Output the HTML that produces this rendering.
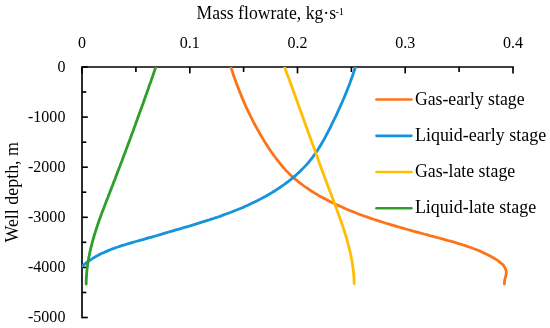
<!DOCTYPE html>
<html><head><meta charset="utf-8"><title>Mass flowrate chart</title>
<style>
html,body{margin:0;padding:0;background:#fff;}
svg{display:block;}
text{font-family:"Liberation Serif",serif;font-size:16.6px;fill:#000;}
.t{font-size:17.8px;}
.ax line{stroke:#000;stroke-width:1.65;}
.cv path{fill:none;stroke-width:2.8;stroke-linecap:round;stroke-linejoin:round;}
</style></head><body>
<svg width="550" height="328" viewBox="0 0 550 328">
<rect width="550" height="328" fill="#fff"/>
<text class="t" x="196.5" y="19.1" textLength="139.5" lengthAdjust="spacingAndGlyphs">Mass flowrate, kg·s</text><text x="335.4" y="14.7" style="font-size:10px" textLength="8.6" lengthAdjust="spacingAndGlyphs">-1</text>
<text class="t" transform="translate(17.7,192.3) rotate(-90)" text-anchor="middle" textLength="100.6" lengthAdjust="spacingAndGlyphs">Well depth, m</text>
<g class="xl"><text x="82.0" y="48.2" text-anchor="middle" textLength="8.0" lengthAdjust="spacingAndGlyphs">0</text>
<text x="189.8" y="48.2" text-anchor="middle" textLength="20.0" lengthAdjust="spacingAndGlyphs">0.1</text>
<text x="297.5" y="48.2" text-anchor="middle" textLength="20.0" lengthAdjust="spacingAndGlyphs">0.2</text>
<text x="405.2" y="48.2" text-anchor="middle" textLength="20.0" lengthAdjust="spacingAndGlyphs">0.3</text>
<text x="513.0" y="48.2" text-anchor="middle" textLength="20.0" lengthAdjust="spacingAndGlyphs">0.4</text></g>
<g class="yl"><text x="65.4" y="71.9" text-anchor="end" textLength="8.0" lengthAdjust="spacingAndGlyphs">0</text>
<text x="65.4" y="122.0" text-anchor="end" textLength="37.4" lengthAdjust="spacingAndGlyphs">-1000</text>
<text x="65.4" y="172.1" text-anchor="end" textLength="37.4" lengthAdjust="spacingAndGlyphs">-2000</text>
<text x="65.4" y="222.2" text-anchor="end" textLength="37.4" lengthAdjust="spacingAndGlyphs">-3000</text>
<text x="65.4" y="272.3" text-anchor="end" textLength="37.4" lengthAdjust="spacingAndGlyphs">-4000</text>
<text x="65.4" y="322.4" text-anchor="end" textLength="37.4" lengthAdjust="spacingAndGlyphs">-5000</text></g>
<g class="ax">
<line x1="81.2" y1="67.0" x2="513.8" y2="67.0"/>
<line x1="82.0" y1="67.0" x2="82.0" y2="318.3"/>
<line x1="82.0" y1="67.0" x2="82.0" y2="73.4"/>
<line x1="135.9" y1="67.0" x2="135.9" y2="72.0"/>
<line x1="189.8" y1="67.0" x2="189.8" y2="73.4"/>
<line x1="243.6" y1="67.0" x2="243.6" y2="72.0"/>
<line x1="297.5" y1="67.0" x2="297.5" y2="73.4"/>
<line x1="351.4" y1="67.0" x2="351.4" y2="72.0"/>
<line x1="405.2" y1="67.0" x2="405.2" y2="73.4"/>
<line x1="459.1" y1="67.0" x2="459.1" y2="72.0"/>
<line x1="513.0" y1="67.0" x2="513.0" y2="73.4"/>
<line x1="82.0" y1="67.0" x2="87.8" y2="67.0"/>
<line x1="82.0" y1="92.0" x2="86.3" y2="92.0"/>
<line x1="82.0" y1="117.1" x2="87.8" y2="117.1"/>
<line x1="82.0" y1="142.2" x2="86.3" y2="142.2"/>
<line x1="82.0" y1="167.2" x2="87.8" y2="167.2"/>
<line x1="82.0" y1="192.2" x2="86.3" y2="192.2"/>
<line x1="82.0" y1="217.3" x2="87.8" y2="217.3"/>
<line x1="82.0" y1="242.3" x2="86.3" y2="242.3"/>
<line x1="82.0" y1="267.4" x2="87.8" y2="267.4"/>
<line x1="82.0" y1="292.5" x2="86.3" y2="292.5"/>
<line x1="82.0" y1="317.5" x2="87.8" y2="317.5"/>
</g>
<clipPath id="pa"><rect x="81.8" y="67" width="440" height="251"/></clipPath>
<g class="cv" clip-path="url(#pa)">
<path d="M229.2 61.9 C229.5 62.6 230.1 64.7 230.5 66.1 C231.0 67.4 231.4 68.8 231.9 70.2 C232.3 71.5 232.8 72.9 233.2 74.2 C233.7 75.6 234.2 77.0 234.6 78.3 C235.1 79.7 235.6 81.0 236.1 82.4 C236.6 83.7 237.1 85.1 237.6 86.4 C238.1 87.7 238.6 89.1 239.2 90.4 C239.7 91.7 240.2 93.1 240.8 94.4 C241.3 95.7 241.8 97.1 242.4 98.4 C243.0 99.7 243.5 101.0 244.1 102.3 C244.7 103.6 245.2 104.9 245.8 106.3 C246.4 107.6 247.0 108.9 247.6 110.2 C248.2 111.5 248.8 112.7 249.5 114.0 C250.1 115.3 250.7 116.6 251.4 117.9 C252.0 119.2 252.7 120.4 253.3 121.7 C254.0 123.0 254.6 124.3 255.3 125.5 C256.0 126.8 256.7 128.0 257.4 129.3 C258.1 130.5 258.8 131.8 259.5 133.0 C260.2 134.3 260.9 135.5 261.7 136.7 C262.4 138.0 263.1 139.2 263.9 140.4 C264.6 141.6 265.4 142.9 266.2 144.1 C267.0 145.3 267.7 146.5 268.5 147.7 C269.3 148.9 270.1 150.1 270.9 151.2 C271.7 152.4 272.6 153.6 273.4 154.8 C274.2 156.0 275.1 157.1 276.0 158.3 C276.8 159.4 277.7 160.6 278.6 161.7 C279.5 162.8 280.4 163.9 281.3 165.0 C282.2 166.1 283.1 167.2 284.1 168.3 C285.1 169.4 286.0 170.4 287.0 171.4 C288.0 172.5 289.0 173.5 290.0 174.5 C291.1 175.5 292.1 176.5 293.2 177.4 C294.3 178.4 295.4 179.3 296.5 180.2 C297.6 181.1 298.7 182.0 299.8 182.9 C301.0 183.8 302.1 184.6 303.3 185.5 C304.4 186.3 305.6 187.1 306.8 187.9 C308.0 188.7 309.2 189.5 310.4 190.3 C311.6 191.1 312.8 191.9 314.0 192.6 C315.2 193.4 316.5 194.1 317.7 194.8 C318.9 195.6 320.2 196.3 321.4 197.0 C322.7 197.7 323.9 198.4 325.2 199.0 C326.5 199.7 327.7 200.4 329.0 201.0 C330.3 201.7 331.6 202.3 332.9 203.0 C334.2 203.6 335.5 204.2 336.8 204.8 C338.1 205.4 339.4 206.0 340.7 206.6 C342.0 207.2 343.3 207.8 344.6 208.3 C345.9 208.9 347.3 209.5 348.6 210.0 C349.9 210.6 351.2 211.1 352.6 211.6 C353.9 212.2 355.2 212.7 356.6 213.2 C357.9 213.7 359.3 214.2 360.6 214.7 C362.0 215.2 363.3 215.7 364.7 216.2 C366.0 216.7 367.4 217.1 368.7 217.6 C370.1 218.1 371.4 218.5 372.8 219.0 C374.1 219.5 375.5 219.9 376.9 220.4 C378.2 220.8 379.6 221.2 381.0 221.7 C382.3 222.1 383.7 222.5 385.1 223.0 C386.4 223.4 387.8 223.8 389.2 224.2 C390.6 224.6 391.9 225.0 393.3 225.4 C394.7 225.8 396.1 226.2 397.4 226.6 C398.8 227.0 400.2 227.4 401.6 227.8 C403.0 228.2 404.3 228.6 405.7 229.0 C407.1 229.4 408.5 229.8 409.9 230.1 C411.2 230.5 412.6 230.9 414.0 231.3 C415.4 231.7 416.8 232.0 418.2 232.4 C419.6 232.8 421.0 233.2 422.3 233.5 C423.7 233.9 425.1 234.3 426.5 234.6 C427.9 235.0 429.3 235.4 430.7 235.8 C432.1 236.1 433.4 236.5 434.8 236.9 C436.2 237.2 437.6 237.6 439.0 238.0 C440.4 238.4 441.8 238.7 443.2 239.1 C444.5 239.5 445.9 239.9 447.3 240.3 C448.7 240.6 450.1 241.0 451.5 241.4 C452.8 241.8 454.2 242.2 455.6 242.6 C457.0 243.0 458.3 243.4 459.7 243.9 C461.1 244.3 462.4 244.7 463.8 245.2 C465.2 245.6 466.5 246.1 467.9 246.5 C469.2 247.0 470.6 247.5 471.9 248.0 C473.2 248.5 474.6 249.0 475.9 249.5 C477.2 250.0 478.6 250.6 479.9 251.1 C481.2 251.7 482.5 252.3 483.8 252.9 C485.1 253.5 486.4 254.1 487.7 254.7 C488.9 255.4 490.2 256.0 491.5 256.7 C492.7 257.4 494.0 258.1 495.2 258.9 C496.4 259.6 497.7 260.4 498.8 261.3 C499.9 262.1 501.1 263.0 502.1 264.1 C503.1 265.1 504.1 266.3 504.8 267.5 C505.5 268.7 506.1 270.0 506.3 271.4 C506.4 272.7 506.2 274.2 505.9 275.6 C505.6 277.0 505.0 278.4 504.7 279.9 C504.5 281.3 504.4 283.4 504.4 284.1" stroke="#FC7419"/>
<path d="M82.0 266.3 C82.5 265.9 84.1 264.5 85.2 263.6 C86.3 262.8 87.4 262.0 88.6 261.2 C89.7 260.4 90.8 259.6 92.0 258.9 C93.1 258.2 94.3 257.5 95.5 256.8 C96.7 256.1 97.9 255.5 99.1 254.8 C100.3 254.2 101.5 253.6 102.7 253.0 C104.0 252.5 105.2 251.9 106.5 251.4 C107.7 250.8 109.0 250.3 110.2 249.8 C111.5 249.3 112.8 248.8 114.0 248.4 C115.3 247.9 116.6 247.4 117.9 247.0 C119.2 246.5 120.5 246.1 121.8 245.7 C123.1 245.3 124.4 244.9 125.7 244.5 C127.0 244.1 128.3 243.7 129.6 243.3 C130.9 242.9 132.2 242.5 133.5 242.1 C134.8 241.8 136.1 241.4 137.4 241.0 C138.8 240.7 140.1 240.3 141.4 239.9 C142.7 239.6 144.0 239.2 145.3 238.8 C146.6 238.5 148.0 238.1 149.3 237.7 C150.6 237.4 151.9 237.0 153.2 236.6 C154.5 236.3 155.8 235.9 157.1 235.5 C158.4 235.1 159.7 234.7 161.0 234.4 C162.3 234.0 163.6 233.6 164.9 233.2 C166.2 232.8 167.5 232.4 168.8 232.0 C170.1 231.7 171.4 231.3 172.8 230.9 C174.1 230.5 175.4 230.1 176.7 229.7 C178.0 229.4 179.3 229.0 180.6 228.6 C181.9 228.2 183.2 227.8 184.6 227.4 C185.9 227.0 187.2 226.7 188.5 226.3 C189.8 225.9 191.1 225.5 192.4 225.1 C193.8 224.7 195.1 224.3 196.4 223.9 C197.7 223.5 199.0 223.1 200.3 222.7 C201.6 222.3 202.9 221.9 204.3 221.4 C205.6 221.0 206.9 220.6 208.2 220.2 C209.5 219.8 210.8 219.3 212.1 218.9 C213.4 218.5 214.7 218.0 216.0 217.6 C217.3 217.2 218.6 216.7 219.9 216.3 C221.2 215.8 222.5 215.4 223.8 214.9 C225.1 214.4 226.4 214.0 227.6 213.5 C228.9 213.0 230.2 212.5 231.5 212.0 C232.8 211.5 234.0 211.0 235.3 210.5 C236.6 210.0 237.8 209.5 239.1 209.0 C240.4 208.5 241.6 208.0 242.9 207.4 C244.1 206.9 245.4 206.3 246.6 205.8 C247.9 205.2 249.1 204.7 250.3 204.1 C251.6 203.5 252.8 202.9 254.0 202.3 C255.3 201.7 256.5 201.1 257.7 200.5 C258.9 199.9 260.1 199.3 261.3 198.6 C262.5 198.0 263.7 197.4 264.9 196.7 C266.1 196.1 267.3 195.4 268.4 194.7 C269.6 194.0 270.8 193.3 271.9 192.6 C273.1 191.9 274.3 191.2 275.4 190.5 C276.6 189.7 277.7 189.0 278.8 188.2 C280.0 187.5 281.1 186.7 282.2 185.9 C283.3 185.1 284.4 184.4 285.5 183.5 C286.6 182.7 287.7 181.9 288.8 181.1 C289.9 180.2 291.0 179.4 292.0 178.5 C293.1 177.6 294.1 176.8 295.1 175.9 C296.2 175.0 297.2 174.1 298.2 173.1 C299.2 172.2 300.2 171.3 301.1 170.3 C302.1 169.3 303.1 168.4 304.0 167.4 C304.9 166.4 305.9 165.4 306.8 164.4 C307.7 163.4 308.6 162.3 309.4 161.3 C310.3 160.2 311.1 159.2 312.0 158.1 C312.8 157.0 313.6 155.9 314.4 154.8 C315.2 153.7 315.9 152.6 316.7 151.5 C317.5 150.3 318.2 149.2 318.9 148.0 C319.6 146.9 320.4 145.7 321.1 144.5 C321.8 143.3 322.4 142.2 323.1 141.0 C323.8 139.8 324.5 138.6 325.1 137.4 C325.8 136.2 326.4 135.0 327.0 133.7 C327.7 132.5 328.3 131.3 328.9 130.1 C329.6 128.9 330.2 127.6 330.8 126.4 C331.4 125.2 332.0 124.0 332.6 122.7 C333.2 121.5 333.8 120.3 334.4 119.0 C335.0 117.8 335.6 116.6 336.2 115.3 C336.8 114.1 337.3 112.9 337.9 111.6 C338.5 110.4 339.1 109.1 339.6 107.9 C340.2 106.7 340.7 105.4 341.3 104.2 C341.8 102.9 342.4 101.7 342.9 100.4 C343.5 99.2 344.0 97.9 344.5 96.7 C345.1 95.4 345.6 94.1 346.1 92.9 C346.6 91.6 347.1 90.4 347.6 89.1 C348.1 87.8 348.6 86.6 349.1 85.3 C349.6 84.0 350.0 82.7 350.5 81.5 C351.0 80.2 351.4 78.9 351.9 77.6 C352.4 76.3 352.8 75.0 353.2 73.8 C353.7 72.5 354.1 71.2 354.5 69.9 C355.0 68.6 355.4 67.3 355.8 66.0 C356.2 64.6 356.8 62.7 357.0 62.0" stroke="#1494DB"/>
<path d="M282.7 62.0 C282.8 62.4 283.3 63.6 283.6 64.4 C283.9 65.3 284.2 66.1 284.5 66.9 C284.8 67.7 285.1 68.5 285.4 69.4 C285.7 70.2 286.0 71.0 286.3 71.8 C286.6 72.7 286.9 73.5 287.2 74.3 C287.6 75.1 287.9 75.9 288.2 76.8 C288.5 77.6 288.8 78.4 289.1 79.2 C289.4 80.1 289.7 80.9 290.0 81.7 C290.3 82.5 290.6 83.4 290.9 84.2 C291.2 85.0 291.5 85.8 291.8 86.6 C292.1 87.5 292.4 88.3 292.7 89.1 C293.0 89.9 293.3 90.8 293.6 91.6 C293.9 92.4 294.2 93.2 294.5 94.0 C294.8 94.9 295.1 95.7 295.4 96.5 C295.7 97.3 296.0 98.2 296.3 99.0 C296.6 99.8 296.9 100.6 297.2 101.5 C297.5 102.3 297.8 103.1 298.0 103.9 C298.3 104.8 298.6 105.6 298.9 106.4 C299.2 107.2 299.5 108.0 299.8 108.9 C300.1 109.7 300.4 110.5 300.7 111.3 C301.0 112.2 301.3 113.0 301.6 113.8 C301.9 114.6 302.2 115.5 302.5 116.3 C302.8 117.1 303.1 117.9 303.4 118.8 C303.7 119.6 304.0 120.4 304.3 121.2 C304.6 122.0 304.9 122.9 305.2 123.7 C305.5 124.5 305.8 125.3 306.1 126.2 C306.4 127.0 306.7 127.8 307.0 128.6 C307.2 129.5 307.5 130.3 307.8 131.1 C308.1 131.9 308.4 132.8 308.7 133.6 C309.0 134.4 309.3 135.2 309.6 136.0 C309.9 136.9 310.2 137.7 310.5 138.5 C310.8 139.3 311.1 140.2 311.4 141.0 C311.7 141.8 312.0 142.6 312.3 143.5 C312.6 144.3 312.9 145.1 313.2 145.9 C313.5 146.8 313.8 147.6 314.1 148.4 C314.4 149.2 314.7 150.0 315.0 150.9 C315.3 151.7 315.6 152.5 315.9 153.3 C316.2 154.2 316.5 155.0 316.8 155.8 C317.1 156.6 317.4 157.5 317.7 158.3 C318.0 159.1 318.3 159.9 318.6 160.7 C318.9 161.6 319.2 162.4 319.5 163.2 C319.8 164.0 320.1 164.9 320.4 165.7 C320.7 166.5 321.0 167.3 321.3 168.2 C321.6 169.0 321.9 169.8 322.2 170.6 C322.5 171.4 322.8 172.3 323.1 173.1 C323.4 173.9 323.7 174.7 324.0 175.6 C324.3 176.4 324.6 177.2 324.9 178.0 C325.2 178.8 325.6 179.7 325.9 180.5 C326.2 181.3 326.5 182.1 326.8 183.0 C327.1 183.8 327.4 184.6 327.7 185.4 C328.0 186.2 328.3 187.1 328.6 187.9 C328.9 188.7 329.3 189.5 329.6 190.4 C329.9 191.2 330.2 192.0 330.5 192.8 C330.8 193.6 331.1 194.5 331.4 195.3 C331.7 196.1 332.1 196.9 332.4 197.7 C332.7 198.6 333.0 199.4 333.3 200.2 C333.6 201.0 333.9 201.9 334.2 202.7 C334.5 203.5 334.9 204.3 335.2 205.1 C335.5 206.0 335.8 206.8 336.1 207.6 C336.4 208.4 336.7 209.3 337.0 210.1 C337.3 210.9 337.6 211.7 337.9 212.5 C338.2 213.4 338.5 214.2 338.8 215.0 C339.1 215.8 339.4 216.7 339.7 217.5 C340.0 218.3 340.3 219.1 340.6 220.0 C340.9 220.8 341.2 221.6 341.5 222.5 C341.7 223.3 342.0 224.1 342.3 224.9 C342.6 225.8 342.9 226.6 343.1 227.4 C343.4 228.3 343.7 229.1 344.0 229.9 C344.2 230.8 344.5 231.6 344.8 232.4 C345.0 233.2 345.3 234.1 345.5 234.9 C345.8 235.8 346.0 236.6 346.3 237.4 C346.5 238.3 346.8 239.1 347.0 239.9 C347.2 240.8 347.5 241.6 347.7 242.5 C347.9 243.3 348.2 244.1 348.4 245.0 C348.6 245.8 348.8 246.7 349.0 247.5 C349.2 248.4 349.4 249.2 349.6 250.0 C349.8 250.9 350.0 251.7 350.2 252.6 C350.4 253.4 350.6 254.3 350.8 255.1 C351.0 256.0 351.1 256.8 351.3 257.7 C351.5 258.6 351.6 259.4 351.8 260.3 C351.9 261.1 352.1 262.0 352.2 262.8 C352.4 263.7 352.5 264.6 352.6 265.4 C352.7 266.3 352.9 267.2 353.0 268.0 C353.1 268.9 353.2 269.8 353.3 270.6 C353.4 271.5 353.5 272.4 353.6 273.2 C353.7 274.1 353.7 275.0 353.8 275.9 C353.9 276.7 353.9 277.6 354.0 278.5 C354.0 279.4 354.1 280.3 354.1 281.1 C354.2 282.0 354.2 283.3 354.2 283.8" stroke="#FFBE00"/>
<path d="M157.6 62.0 C157.4 62.4 157.0 63.6 156.7 64.4 C156.4 65.3 156.1 66.1 155.9 66.9 C155.6 67.8 155.3 68.6 155.0 69.4 C154.7 70.3 154.4 71.1 154.1 71.9 C153.8 72.7 153.6 73.6 153.3 74.4 C153.0 75.2 152.7 76.1 152.4 76.9 C152.1 77.7 151.8 78.5 151.5 79.4 C151.3 80.2 151.0 81.0 150.7 81.9 C150.4 82.7 150.1 83.5 149.8 84.3 C149.5 85.2 149.2 86.0 148.9 86.8 C148.6 87.6 148.4 88.5 148.1 89.3 C147.8 90.1 147.5 91.0 147.2 91.8 C146.9 92.6 146.6 93.4 146.3 94.3 C146.0 95.1 145.7 95.9 145.4 96.7 C145.1 97.6 144.8 98.4 144.5 99.2 C144.3 100.0 144.0 100.9 143.7 101.7 C143.4 102.5 143.1 103.3 142.8 104.2 C142.5 105.0 142.2 105.8 141.9 106.6 C141.6 107.5 141.3 108.3 141.0 109.1 C140.7 109.9 140.4 110.8 140.1 111.6 C139.8 112.4 139.5 113.2 139.2 114.1 C138.9 114.9 138.6 115.7 138.3 116.5 C138.0 117.4 137.7 118.2 137.4 119.0 C137.1 119.8 136.8 120.7 136.5 121.5 C136.2 122.3 135.9 123.1 135.6 124.0 C135.3 124.8 135.0 125.6 134.7 126.4 C134.4 127.3 134.1 128.1 133.8 128.9 C133.5 129.7 133.2 130.5 132.9 131.4 C132.6 132.2 132.3 133.0 132.0 133.8 C131.7 134.7 131.4 135.5 131.1 136.3 C130.8 137.1 130.5 138.0 130.2 138.8 C129.9 139.6 129.6 140.4 129.3 141.2 C129.0 142.1 128.6 142.9 128.3 143.7 C128.0 144.5 127.7 145.4 127.4 146.2 C127.1 147.0 126.8 147.8 126.5 148.6 C126.2 149.5 125.9 150.3 125.6 151.1 C125.3 151.9 125.0 152.7 124.7 153.6 C124.3 154.4 124.0 155.2 123.7 156.0 C123.4 156.9 123.1 157.7 122.8 158.5 C122.5 159.3 122.2 160.1 121.9 161.0 C121.6 161.8 121.2 162.6 120.9 163.4 C120.6 164.2 120.3 165.1 120.0 165.9 C119.7 166.7 119.4 167.5 119.1 168.3 C118.8 169.2 118.4 170.0 118.1 170.8 C117.8 171.6 117.5 172.5 117.2 173.3 C116.9 174.1 116.6 174.9 116.2 175.7 C115.9 176.6 115.6 177.4 115.3 178.2 C115.0 179.0 114.7 179.8 114.4 180.7 C114.0 181.5 113.7 182.3 113.4 183.1 C113.1 183.9 112.8 184.8 112.5 185.6 C112.1 186.4 111.8 187.2 111.5 188.0 C111.2 188.9 110.9 189.7 110.5 190.5 C110.2 191.3 109.9 192.1 109.6 193.0 C109.3 193.8 109.0 194.6 108.6 195.4 C108.3 196.2 108.0 197.0 107.7 197.9 C107.4 198.7 107.0 199.5 106.7 200.3 C106.4 201.1 106.1 202.0 105.8 202.8 C105.5 203.6 105.1 204.4 104.8 205.3 C104.5 206.1 104.2 206.9 103.9 207.7 C103.6 208.5 103.3 209.4 103.0 210.2 C102.6 211.0 102.3 211.8 102.0 212.6 C101.7 213.5 101.4 214.3 101.1 215.1 C100.8 215.9 100.5 216.8 100.2 217.6 C99.9 218.4 99.6 219.2 99.3 220.1 C99.0 220.9 98.7 221.7 98.5 222.5 C98.2 223.4 97.9 224.2 97.6 225.0 C97.3 225.9 97.0 226.7 96.8 227.5 C96.5 228.3 96.2 229.2 96.0 230.0 C95.7 230.8 95.4 231.7 95.2 232.5 C94.9 233.3 94.6 234.2 94.4 235.0 C94.1 235.8 93.9 236.7 93.7 237.5 C93.4 238.4 93.2 239.2 92.9 240.0 C92.7 240.9 92.5 241.7 92.2 242.5 C92.0 243.4 91.8 244.2 91.6 245.1 C91.4 245.9 91.2 246.8 90.9 247.6 C90.7 248.5 90.5 249.3 90.4 250.2 C90.2 251.0 90.0 251.8 89.8 252.7 C89.6 253.6 89.4 254.4 89.3 255.3 C89.1 256.1 88.9 257.0 88.8 257.8 C88.6 258.7 88.5 259.5 88.3 260.4 C88.2 261.3 88.0 262.1 87.9 263.0 C87.8 263.8 87.6 264.7 87.5 265.6 C87.4 266.4 87.3 267.3 87.2 268.2 C87.1 269.0 87.0 269.9 86.9 270.8 C86.8 271.7 86.7 272.5 86.7 273.4 C86.6 274.3 86.5 275.2 86.5 276.0 C86.4 276.9 86.4 277.8 86.3 278.7 C86.3 279.6 86.3 280.5 86.2 281.3 C86.2 282.2 86.2 283.6 86.2 284.0" stroke="#2F9E2C"/>
</g>
<g class="lg"><line x1="376.5" y1="99.5" x2="411.4" y2="99.5" stroke="#FC7419" stroke-width="2.65" stroke-linecap="round"/>
<text class="t" x="414.9" y="104.9" textLength="109.6" lengthAdjust="spacingAndGlyphs">Gas-early stage</text>
<line x1="376.5" y1="135.8" x2="411.4" y2="135.8" stroke="#1494DB" stroke-width="2.65" stroke-linecap="round"/>
<text class="t" x="414.9" y="141.1" textLength="131.4" lengthAdjust="spacingAndGlyphs">Liquid-early stage</text>
<line x1="376.5" y1="172.0" x2="411.4" y2="172.0" stroke="#FFBE00" stroke-width="2.65" stroke-linecap="round"/>
<text class="t" x="414.9" y="176.8" textLength="100.3" lengthAdjust="spacingAndGlyphs">Gas-late stage</text>
<line x1="376.5" y1="208.2" x2="411.4" y2="208.2" stroke="#2F9E2C" stroke-width="2.65" stroke-linecap="round"/>
<text class="t" x="414.9" y="213.1" textLength="121.3" lengthAdjust="spacingAndGlyphs">Liquid-late stage</text></g>
</svg>
</body></html>
